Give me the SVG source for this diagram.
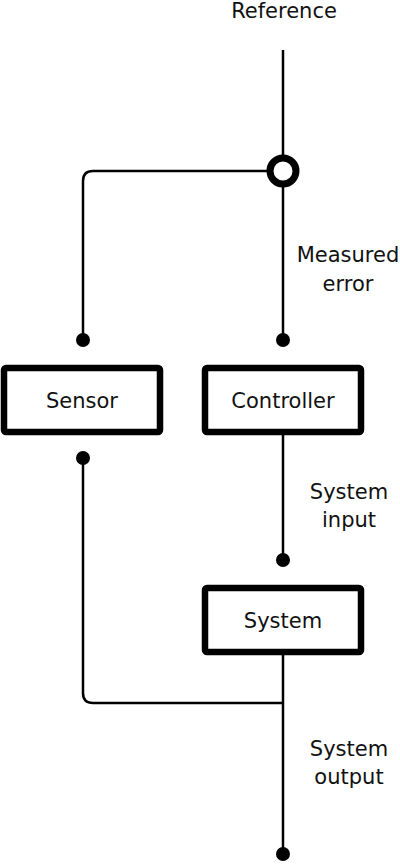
<svg xmlns="http://www.w3.org/2000/svg" width="400" height="864" viewBox="0 0 400 864">
<style>
.box{fill:#fff;stroke:#000;stroke-width:6.5;stroke-linejoin:round}
.ln{fill:none;stroke:#000;stroke-width:2.5}
.dot{fill:#000}
text{font-family:"DejaVu Sans",sans-serif;font-size:21px;fill:#111;text-anchor:middle}
</style>
<rect width="400" height="864" fill="#fff"/>
<g id="connectors">
<path class="ln" d="M283 50 V160"/>
<path class="ln" d="M271 171 H93 Q83 171 83 181 V340"/>
<path class="ln" d="M283 183 V340"/>
<path class="ln" d="M283 435 V560"/>
<path class="ln" d="M83 458 V693 Q83 703 93 703 H283"/>
<path class="ln" d="M283 654 V854"/>
<circle class="dot" cx="83" cy="340" r="7"/>
<circle class="dot" cx="283" cy="340" r="7"/>
<circle class="dot" cx="83" cy="458" r="7"/>
<circle class="dot" cx="283" cy="560" r="7"/>
<circle class="dot" cx="283" cy="854" r="7"/>
</g>
<g id="summing-junction">
<circle cx="283" cy="171" r="13" fill="#fff" stroke="#000" stroke-width="7"/>
</g>
<g id="reference-label"><text x="284" y="18">Reference</text></g>
<g id="measured-error-label"><text x="348" y="262">Measured</text><text x="348" y="291">error</text></g>
<g id="sensor">
<rect class="box" x="4" y="368" width="156" height="64" rx="2"/>
<text x="82" y="408">Sensor</text>
</g>
<g id="controller">
<rect class="box" x="205" y="368" width="156" height="64" rx="2"/>
<text x="283" y="408">Controller</text>
</g>
<g id="system-input-label"><text x="349" y="499">System</text><text x="349" y="527">input</text></g>
<g id="system">
<rect class="box" x="205" y="588" width="156" height="64" rx="2"/>
<text x="283" y="628">System</text>
</g>
<g id="system-output-label"><text x="349" y="756">System</text><text x="349" y="784">output</text></g>
</svg>
